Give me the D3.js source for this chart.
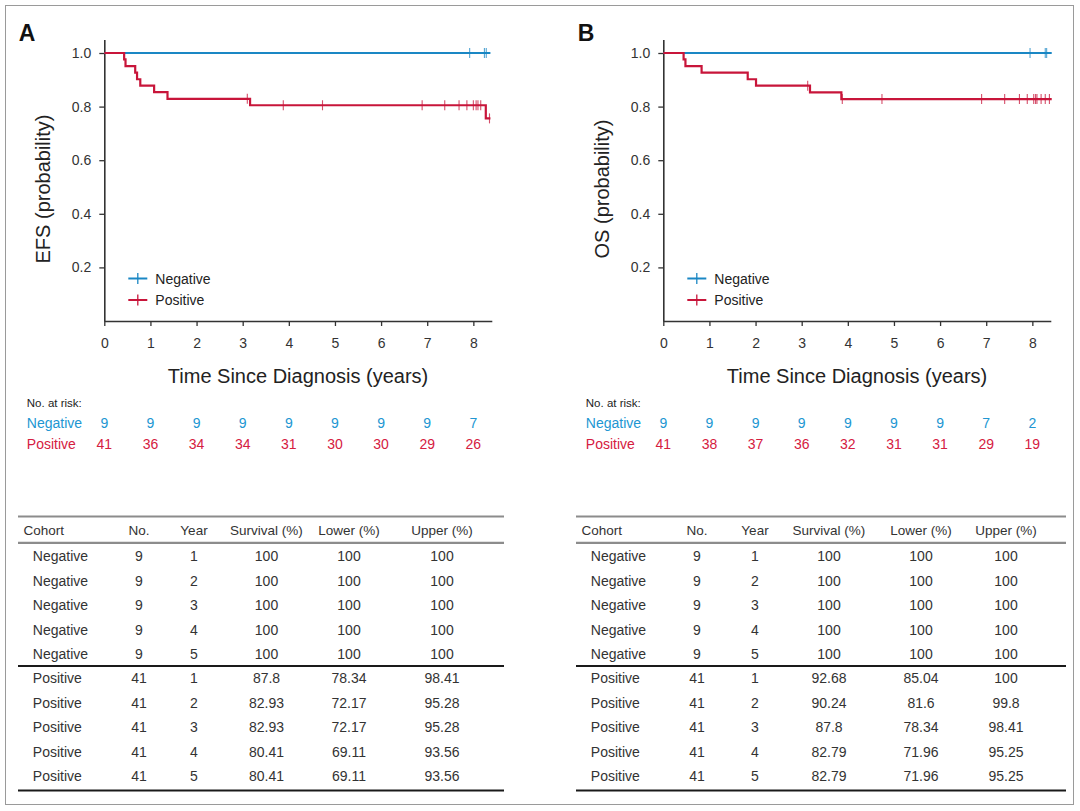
<!DOCTYPE html>
<html>
<head>
<meta charset="utf-8">
<script src="https://cdn.jsdelivr.net/npm/d3@7"></script>
<style>
	body{margin:0;background:#fff;}
	svg{font-family:"Liberation Sans",Arial,Helvetica,sans-serif;}
</style>
</head>
<body>
<svg id="chart" width="1080" height="811"></svg>
<script>

// ---------------------------------------------- DATA ---------------------------------------------------
var riskYears = [0,1,2,3,4,5,6,7,8];

// EFS (panel A) step curves: time (years) / survival
var efsNegTimes = [0];
var efsNegSurv = [1.0];
var efsNegEnd = 8.37;
var efsNegCensor = [7.92, 8.24, 8.28];
var efsPosTimes = [0, 0.43, 0.46, 0.67, 0.71, 0.78, 1.08, 1.37, 3.16, 8.27];
var efsPosSurv = [1.0, 0.976, 0.951, 0.927, 0.902, 0.878, 0.854, 0.829, 0.805, 0.756];
var efsPosEnd = 8.37;
var efsPosCensor = [3.10, 3.88, 4.73, 6.89, 7.38, 7.69, 7.86, 8.00, 8.06, 8.10, 8.16, 8.35];

// OS (panel B)
var osNegTimes = [0];
var osNegSurv = [1.0];
var osNegEnd = 8.42;
var osNegCensor = [7.95, 8.28, 8.31];
var osPosTimes = [0, 0.44, 0.48, 0.83, 1.83, 2.01, 3.18, 3.86];
var osPosSurv = [1.0, 0.976, 0.951, 0.927, 0.902, 0.878, 0.853, 0.828];
var osPosEnd = 8.42;
var osPosCensor = [3.13, 3.88, 4.74, 6.90, 7.40, 7.72, 7.89, 8.03, 8.07, 8.10, 8.19, 8.28, 8.37];

// no. at risk
var efsRiskNeg = [9,9,9,9,9,9,9,9,7];
var efsRiskPos = [41,36,34,34,31,30,30,29,26];
var osRiskNeg = [9,9,9,9,9,9,9,7,2];
var osRiskPos = [41,38,37,36,32,31,31,29,19];

// summary tables
var tableHeader = ["Cohort","No.","Year","Survival (%)","Lower (%)","Upper (%)"];
var efsTable = [
	["Negative","9","1","100","100","100"],
	["Negative","9","2","100","100","100"],
	["Negative","9","3","100","100","100"],
	["Negative","9","4","100","100","100"],
	["Negative","9","5","100","100","100"],
	["Positive","41","1","87.8","78.34","98.41"],
	["Positive","41","2","82.93","72.17","95.28"],
	["Positive","41","3","82.93","72.17","95.28"],
	["Positive","41","4","80.41","69.11","93.56"],
	["Positive","41","5","80.41","69.11","93.56"]
];
var osTable = [
	["Negative","9","1","100","100","100"],
	["Negative","9","2","100","100","100"],
	["Negative","9","3","100","100","100"],
	["Negative","9","4","100","100","100"],
	["Negative","9","5","100","100","100"],
	["Positive","41","1","92.68","85.04","100"],
	["Positive","41","2","90.24","81.6","99.8"],
	["Positive","41","3","87.8","78.34","98.41"],
	["Positive","41","4","82.79","71.96","95.25"],
	["Positive","41","5","82.79","71.96","95.25"]
];

// ---------------------------------------------- STYLE / LAYOUT ---------------------------------------------------
var COLOR_NEG = "#1a87c4";
var COLOR_POS = "#c8153a";
var COLOR_NEG_TXT = "#2196d2";
var COLOR_POS_TXT = "#d5203f";
var COLOR_AXIS = "#333333";
var COLOR_TXT = "#333333";

var PLOT_TOP = 39.6;
var PLOT_HEIGHT = 281.4;
var PLOT_WIDTH = 387.5;

var svg = d3.select("#chart");

// outer frame
svg.append("rect")
	.attr("x",5.5).attr("y",5.5)
	.attr("width",1068).attr("height",799)
	.style("fill","none")
	.style("stroke","#9a9a9a")
	.style("stroke-width",1);

var panels = [
	{letter:"A", left:104.3, ytitle:"EFS (probability)",
	 neg:{times:efsNegTimes,surv:efsNegSurv,end:efsNegEnd,censor:efsNegCensor},
	 pos:{times:efsPosTimes,surv:efsPosSurv,end:efsPosEnd,censor:efsPosCensor},
	 riskNeg:efsRiskNeg, riskPos:efsRiskPos, table:efsTable,
	 tableLeft:18, tableRight:504, cols:[121,176,248.5,331,424]},
	{letter:"B", left:663.3, ytitle:"OS (probability)",
	 neg:{times:osNegTimes,surv:osNegSurv,end:osNegEnd,censor:osNegCensor},
	 pos:{times:osPosTimes,surv:osPosSurv,end:osPosEnd,censor:osPosCensor},
	 riskNeg:osRiskNeg, riskPos:osRiskPos, table:osTable,
	 tableLeft:576, tableRight:1066, cols:[121,179,253,345,430]}
];

panels.forEach(function(p){ drawPanel(p); });

/**
 * one KM panel: plot + legend + no. at risk + summary table
 */
function drawPanel(p){
	var x = d3.scaleLinear().domain([0,8.4]).range([0,PLOT_WIDTH]);
	var y = d3.scaleLinear().domain([0,1.05]).range([PLOT_HEIGHT,0]);

	var g = svg.append("g").attr("transform","translate("+p.left+","+PLOT_TOP+")");

	// panel letter
	svg.append("text")
		.text(p.letter)
		.attr("x",p.left-85.5)
		.attr("y",40.5)
		.style("font-size","23px")
		.style("font-weight","bold")
		.style("fill","#111");

	//------------ axes ----------------
	var yAxis = d3.axisLeft(y)
		.tickValues([0.2,0.4,0.6,0.8,1.0])
		.tickFormat(d3.format(".1f"))
		.tickSize(5).tickSizeOuter(0).tickPadding(8);
	var xAxis = d3.axisBottom(x)
		.tickValues(riskYears)
		.tickFormat(d3.format("d"))
		.tickSize(5).tickSizeOuter(0).tickPadding(12);

	var gy = g.append("g").call(yAxis);
	var gx = g.append("g").attr("transform","translate(0,"+PLOT_HEIGHT+")").call(xAxis);
	[gx,gy].forEach(function(a){
		a.select(".domain").style("stroke",COLOR_AXIS).style("stroke-width",1.6);
		a.selectAll(".tick line").style("stroke",COLOR_AXIS).style("stroke-width",1.3);
		a.selectAll(".tick text")
			.style("font-size","14px")
			.style("fill",COLOR_TXT)
			.style("font-family","Liberation Sans, Arial, sans-serif");
	});

	// axis titles
	g.append("text")
		.text(p.ytitle)
		.attr("transform","translate(-54,"+(y(0.5)+2)+") rotate(-90)")
		.style("text-anchor","middle")
		.style("font-size","20px")
		.style("fill","#222");
	g.append("text")
		.text("Time Since Diagnosis (years)")
		.attr("x",PLOT_WIDTH/2)
		.attr("y",PLOT_HEIGHT+62)
		.style("text-anchor","middle")
		.style("font-size","20px")
		.style("fill","#222");

	//------------ curves ----------------
	_drawCurve(g,x,y,p.neg,COLOR_NEG);
	_drawCurve(g,x,y,p.pos,COLOR_POS);

	//------------ legend ----------------
	var legend = [{name:"Negative",color:COLOR_NEG},{name:"Positive",color:COLOR_POS}];
	var gl = g.append("g").attr("transform","translate(24,"+(278.5-PLOT_TOP)+")");
	legend.forEach(function(d,i){
		var _y = i*21.5;
		gl.append("line")
			.attr("x1",0).attr("x2",19).attr("y1",_y).attr("y2",_y)
			.style("stroke",d.color).style("stroke-width",2);
		gl.append("line")
			.attr("x1",9.5).attr("x2",9.5).attr("y1",_y-5.5).attr("y2",_y+5.5)
			.style("stroke",d.color).style("stroke-width",1.3);
		gl.append("text")
			.text(d.name)
			.attr("x",27).attr("y",_y+5)
			.style("font-size","14px")
			.style("fill","#222");
	});

	//------------ no. at risk ----------------
	var _rx = p.left-77.5;
	svg.append("text")
		.text("No. at risk:")
		.attr("x",_rx).attr("y",407)
		.style("font-size","11.5px")
		.style("fill","#222");
	var rows = [{name:"Negative",vals:p.riskNeg,color:COLOR_NEG_TXT,y:428},
	            {name:"Positive",vals:p.riskPos,color:COLOR_POS_TXT,y:448.5}];
	rows.forEach(function(r){
		svg.append("text")
			.text(r.name)
			.attr("x",_rx).attr("y",r.y)
			.style("font-size","14px")
			.style("fill",r.color);
		svg.selectAll(null)
			.data(r.vals)
			.enter()
			.append("text")
			.text(function(d){return d;})
			.attr("x",function(d,i){return p.left+x(riskYears[i]);})
			.attr("y",r.y)
			.style("text-anchor","middle")
			.style("font-size","14px")
			.style("fill",r.color);
	});

	//------------ summary table ----------------
	_drawTable(p);
}

/** helper: KM step line + censor marks
 */
function _drawCurve(g,x,y,s,color){
	var pts = s.times.map(function(t,i){return [t,s.surv[i]];});
	pts.push([s.end,s.surv[s.surv.length-1]]);

	var line = d3.line()
		.x(function(d){return x(d[0]);})
		.y(function(d){return y(d[1]);})
		.curve(d3.curveStepAfter);

	g.append("path")
		.attr("d",line(pts))
		.style("fill","none")
		.style("stroke",color)
		.style("stroke-width",2.2);

	// survival level at censor time
	var _level = function(t){
		var v = s.surv[0];
		for (var i in s.times){ if (s.times[i]<=t) v = s.surv[i]; }
		return v;
	};
	g.selectAll(null)
		.data(s.censor)
		.enter()
		.append("line")
		.attr("x1",function(d){return x(d);})
		.attr("x2",function(d){return x(d);})
		.attr("y1",function(d){return y(_level(d))-5;})
		.attr("y2",function(d){return y(_level(d))+5;})
		.style("stroke",color)
		.style("stroke-width",1.1)
		.style("opacity",0.75);
}

/** helper: cohort summary table under each panel
 */
function _drawTable(p){
	var _l = p.tableLeft, _r = p.tableRight;
	var _rowH = 24.5;
	var _headY = 534.5;
	var _firstY = 561;

	var _rule = function(yy,color){
		svg.append("line")
			.attr("x1",_l).attr("x2",_r).attr("y1",yy).attr("y2",yy)
			.style("stroke",color).style("stroke-width",2.2);
	};
	_rule(516.5,"#8c8c8c");
	_rule(542.8,"#8c8c8c");
	_rule(666,"#1a1a1a");
	_rule(790.5,"#1a1a1a");

	// header
	tableHeader.forEach(function(h,i){
		svg.append("text")
			.text(h)
			.attr("x",i==0 ? _l+5.5 : _l+p.cols[i-1])
			.attr("y",_headY)
			.style("text-anchor",i==0 ? "start" : "middle")
			.style("font-size","13.5px")
			.style("fill",COLOR_TXT);
	});

	// body
	p.table.forEach(function(row,r){
		var _y = _firstY + r*_rowH + (r>=5 ? -0.5 : 0);
		row.forEach(function(c,i){
			svg.append("text")
				.text(c)
				.attr("x",i==0 ? _l+14.8 : _l+p.cols[i-1])
				.attr("y",_y)
				.style("text-anchor",i==0 ? "start" : "middle")
				.style("font-size","14px")
				.style("fill",COLOR_TXT);
		});
	});
}
</script>
</body>
</html>
